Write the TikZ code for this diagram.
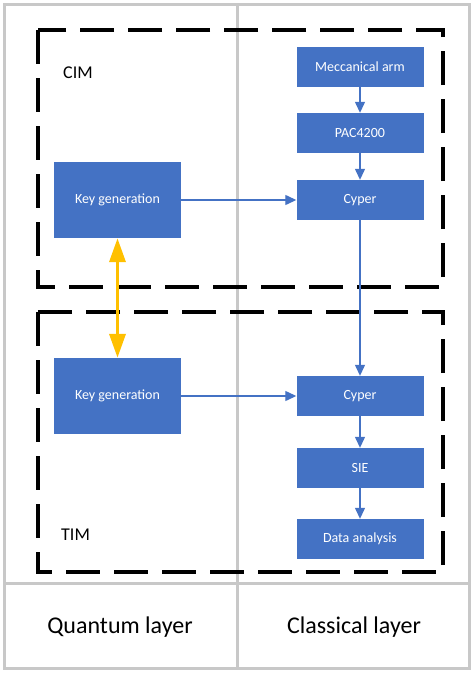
\documentclass[tikz,border=0pt]{standalone}
\usepackage{fontspec}
\setmainfont{Carlito}
\usetikzlibrary{arrows.meta}
\definecolor{bblue}{HTML}{4472C4}
\definecolor{gframe}{HTML}{C8C8C8}
\definecolor{yarrow}{HTML}{FFC000}
\tikzset{
  bbox/.style={draw=none,fill=bblue,text=white,minimum width=127pt,minimum height=40pt,inner sep=0pt,font=\fontsize{14}{16}\selectfont},
  kbox/.style={bbox,minimum height=76pt},
  flow/.style={draw=bblue,line width=1.3pt,-{Triangle[length=11pt,width=10pt]}},
  dashbox/.style={draw=black,line width=3.5pt,dash pattern=on 34pt off 14pt},
  frame/.style={draw=gframe,line width=3pt},
  lbl/.style={font=\fontsize{18}{20}\selectfont,anchor=west,inner sep=0pt},
  layer/.style={font=\fontsize{24}{28}\selectfont,inner sep=0pt}
}
\begin{document}
\begin{tikzpicture}[x=1pt,y=-1pt]
\useasboundingbox (0,0) rectangle (474,673);
% frame
\draw[frame] (4,4) rectangle (469,668);
\draw[frame] (237,4) -- (237,668);
\draw[frame] (4,583) -- (469,583);
% dashed boxes
\draw[dashbox] (38,30) rectangle (443,287);
\draw[dashbox] (38,312) rectangle (443,572);
\node[lbl] (cim) at (63,73) {CIM};
\node[lbl] (tim) at (61,535) {TIM};
% boxes
\node[bbox] (arm) at (360,67) {Meccanical arm};
\node[bbox] (pac) at (360,133) {PAC4200};
\node[bbox] (cy1) at (360,200) {Cyper};
\node[kbox] (k1) at (117.5,200) {Key generation};
\node[kbox] (k2) at (117.5,396) {Key generation};
\node[bbox] (cy2) at (360,396) {Cyper};
\node[bbox] (sie) at (360,468) {SIE};
\node[bbox] (da) at (360,539) {Data analysis};
% arrows
\draw[flow] (arm) -- (pac);
\draw[flow] (pac) -- (cy1);
\draw[flow] (k1) -- (cy1);
\draw[flow] (cy1) -- (cy2);
\draw[flow] (k2) -- (cy2);
\draw[flow] (cy2) -- (sie);
\draw[flow] (sie) -- (da);
\draw[draw=yarrow,line width=3.5pt,{Triangle[length=24pt,width=16pt]}-{Triangle[length=24pt,width=16pt]}] (k1) -- (k2);
% layers
\node[layer] (ql) at (120,627) {Quantum layer};
\node[layer] (cl) at (354,627) {Classical layer};
\end{tikzpicture}
\end{document}
